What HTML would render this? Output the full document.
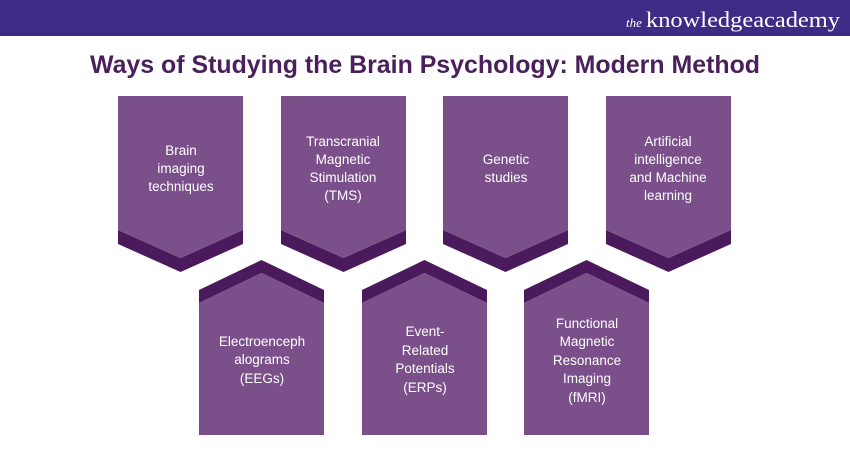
<!DOCTYPE html>
<html><head><meta charset="utf-8"><style>
html,body{margin:0;padding:0;background:#fff;}
svg{display:block;}
.t{fill:#fff;font-size:13.5px;text-anchor:middle;font-family:"Liberation Sans",sans-serif;}
</style></head><body>
<svg width="850" height="450" viewBox="0 0 850 450" xmlns="http://www.w3.org/2000/svg">
<rect x="0" y="0" width="850" height="36" fill="#3f2b86"/>
<text x="626" y="27" fill="#fff" style="font-family:'Liberation Serif',serif;font-size:13px;font-style:italic">the</text>
<text x="646" y="27" fill="#fff" style="font-family:'Liberation Serif',serif;font-size:22px" textLength="194" lengthAdjust="spacingAndGlyphs">knowledgeacademy</text>
<text x="425" y="73" fill="#4a1f5c" style="font-family:'Liberation Sans',sans-serif;font-size:25px;font-weight:bold" text-anchor="middle" textLength="670" lengthAdjust="spacingAndGlyphs">Ways of Studying the Brain Psychology: Modern Method</text>
<g transform="translate(118,0)"><polygon points="0,230 62.5,258 125,230 125,244 62.5,272 0,244" fill="#4a1a5c"/><polygon points="0,96 125,96 125,230 62.5,258 0,230" fill="#7a4f8a"/></g>
<g transform="translate(281,0)"><polygon points="0,230 62.5,258 125,230 125,244 62.5,272 0,244" fill="#4a1a5c"/><polygon points="0,96 125,96 125,230 62.5,258 0,230" fill="#7a4f8a"/></g>
<g transform="translate(443,0)"><polygon points="0,230 62.5,258 125,230 125,244 62.5,272 0,244" fill="#4a1a5c"/><polygon points="0,96 125,96 125,230 62.5,258 0,230" fill="#7a4f8a"/></g>
<g transform="translate(606,0)"><polygon points="0,230 62.5,258 125,230 125,244 62.5,272 0,244" fill="#4a1a5c"/><polygon points="0,96 125,96 125,230 62.5,258 0,230" fill="#7a4f8a"/></g>
<g transform="translate(199,0)"><polygon points="0,290 62.5,260 125,290 125,303 62.5,273 0,303" fill="#4a1a5c"/><polygon points="0,303 62.5,273 125,303 125,435 0,435" fill="#7a4f8a"/></g>
<g transform="translate(362,0)"><polygon points="0,290 62.5,260 125,290 125,303 62.5,273 0,303" fill="#4a1a5c"/><polygon points="0,303 62.5,273 125,303 125,435 0,435" fill="#7a4f8a"/></g>
<g transform="translate(524,0)"><polygon points="0,290 62.5,260 125,290 125,303 62.5,273 0,303" fill="#4a1a5c"/><polygon points="0,303 62.5,273 125,303 125,435 0,435" fill="#7a4f8a"/></g>
<text class="t"><tspan x="181" y="155">Brain</tspan><tspan x="181" y="173">imaging</tspan><tspan x="181" y="191">techniques</tspan></text>
<text class="t"><tspan x="343" y="146">Transcranial</tspan><tspan x="343" y="164">Magnetic</tspan><tspan x="343" y="182">Stimulation</tspan><tspan x="343" y="200">(TMS)</tspan></text>
<text class="t"><tspan x="506" y="164">Genetic</tspan><tspan x="506" y="182">studies</tspan></text>
<text class="t"><tspan x="668" y="146">Artificial</tspan><tspan x="668" y="164">intelligence</tspan><tspan x="668" y="182">and Machine</tspan><tspan x="668" y="200">learning</tspan></text>
<text class="t"><tspan x="262" y="346">Electroenceph</tspan><tspan x="262" y="364">alograms</tspan><tspan x="262" y="383">(EEGs)</tspan></text>
<text class="t"><tspan x="425" y="336">Event-</tspan><tspan x="425" y="355">Related</tspan><tspan x="425" y="373">Potentials</tspan><tspan x="425" y="392">(ERPs)</tspan></text>
<text class="t"><tspan x="587" y="328">Functional</tspan><tspan x="587" y="346">Magnetic</tspan><tspan x="587" y="365">Resonance</tspan><tspan x="587" y="383">Imaging</tspan><tspan x="587" y="402">(fMRI)</tspan></text>
</svg>
</body></html>
